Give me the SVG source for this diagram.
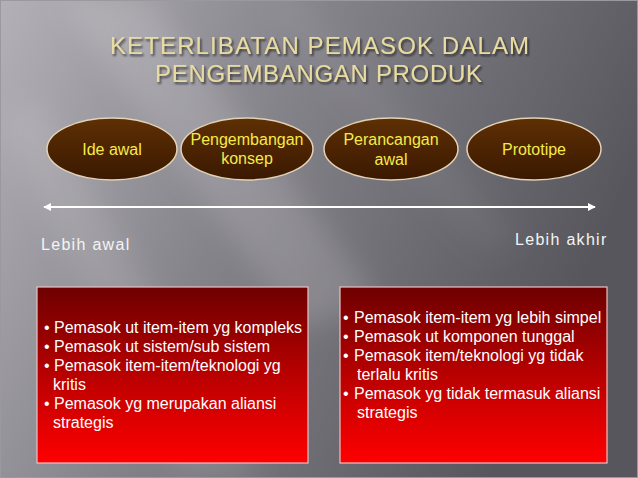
<svg xmlns="http://www.w3.org/2000/svg" width="638" height="478" viewBox="0 0 638 478">
<defs>
<linearGradient id="bg" x1="0" y1="0" x2="1" y2="0.35">
<stop offset="0" stop-color="#b3b1b7"/>
<stop offset="0.45" stop-color="#86848b"/>
<stop offset="1" stop-color="#57565c"/>
</linearGradient>
<linearGradient id="brown" x1="0" y1="0" x2="0" y2="1">
<stop offset="0" stop-color="#5e3004"/>
<stop offset="1" stop-color="#3a1800"/>
</linearGradient>
<linearGradient id="red" x1="0" y1="0" x2="0" y2="1">
<stop offset="0" stop-color="#6e0000"/>
<stop offset="0.55" stop-color="#c00000"/>
<stop offset="1" stop-color="#ff0000"/>
</linearGradient>
<filter id="blur" x="-20%" y="-20%" width="140%" height="140%"><feGaussianBlur stdDeviation="14"/></filter>
<filter id="sh" x="-10%" y="-10%" width="120%" height="130%"><feDropShadow dx="1.5" dy="2" stdDeviation="1" flood-color="#111" flood-opacity="0.7"/></filter>
<marker id="ah" viewBox="0 0 10 10" refX="9" refY="5" markerWidth="4" markerHeight="4" orient="auto-start-reverse"><path d="M0,0 L10,5 L0,10 z" fill="#ffffff"/></marker>
<style>
.ell{fill:url(#brown);stroke:#e2d2b8;stroke-width:1.5}
.et{font-family:"Liberation Sans",Arial,sans-serif;font-size:16px;fill:#f6ea48;text-anchor:middle}
.box{fill:url(#red);stroke:#e8c4c4;stroke-width:1.2}
.bt{font-family:"Liberation Sans",Arial,sans-serif;font-size:16px;fill:#ffffff}
.lab{font-family:"Liberation Sans",Arial,sans-serif;font-size:16px;fill:#f4f4f4;letter-spacing:1.3px}
.ttl{font-family:"Liberation Sans",Arial,sans-serif;font-size:24px;fill:#e8dba2;text-anchor:middle}
</style>
</defs>
<rect x="0" y="0" width="638" height="478" fill="url(#bg)"/>
<g filter="url(#blur)" fill="#ffffff">
<polygon points="60,0 150,0 380,300 300,330" opacity="0.14"/>
<polygon points="0,120 40,100 260,478 180,478" opacity="0.10"/>
<polygon points="260,0 300,0 520,240 480,250" opacity="0.05"/>
</g>
<rect x="0.5" y="0.5" width="637" height="477" fill="none" stroke="#9a999e" stroke-width="1"/>
<g id="title" filter="url(#sh)">
<text class="ttl" x="319.5" y="54" textLength="419" lengthAdjust="spacing">KETERLIBATAN PEMASOK DALAM</text>
<text class="ttl" x="318.5" y="82" textLength="327" lengthAdjust="spacing">PENGEMBANGAN PRODUK</text>
</g>
<g id="n1"><ellipse class="ell" cx="112" cy="149" rx="65" ry="31"/><text class="et" x="112" y="155">Ide awal</text></g>
<g id="n2"><ellipse class="ell" cx="247" cy="149" rx="66" ry="31"/><text class="et" x="247" y="145">Pengembangan</text><text class="et" x="247" y="164">konsep</text></g>
<g id="n3"><ellipse class="ell" cx="391" cy="149" rx="67" ry="31"/><text class="et" x="391" y="145">Perancangan</text><text class="et" x="391" y="165">awal</text></g>
<g id="n4"><ellipse class="ell" cx="534" cy="149" rx="67" ry="31"/><text class="et" x="534" y="155">Prototipe</text></g>
<g id="connectors">
<line x1="44" y1="207" x2="595" y2="207" stroke="#ffffff" stroke-width="2" marker-start="url(#ah)" marker-end="url(#ah)"/>
</g>
<g id="labels">
<text class="lab" x="41" y="250">Lebih awal</text>
<text class="lab" x="515" y="245">Lebih akhir</text>
</g>
<g id="boxL">
<rect class="box" x="37" y="287" width="271" height="176"/>
<text class="bt" x="44" y="333">•</text><text class="bt" x="54" y="333">Pemasok ut item-item yg kompleks</text>
<text class="bt" x="44" y="352">•</text><text class="bt" x="54" y="352">Pemasok ut sistem/sub sistem</text>
<text class="bt" x="44" y="371">•</text><text class="bt" x="54" y="371">Pemasok item-item/teknologi yg</text>
<text class="bt" x="53" y="390">kritis</text>
<text class="bt" x="44" y="409">•</text><text class="bt" x="54" y="409">Pemasok yg merupakan aliansi</text>
<text class="bt" x="53" y="428">strategis</text>
</g>
<g id="boxR">
<rect class="box" x="340" y="287" width="267" height="176"/>
<text class="bt" x="343" y="323">•</text><text class="bt" x="354" y="323">Pemasok item-item yg lebih simpel</text>
<text class="bt" x="343" y="342">•</text><text class="bt" x="354" y="342">Pemasok ut komponen tunggal</text>
<text class="bt" x="343" y="361">•</text><text class="bt" x="354" y="361">Pemasok item/teknologi yg tidak</text>
<text class="bt" x="357" y="380">terlalu kritis</text>
<text class="bt" x="343" y="399">•</text><text class="bt" x="354" y="399">Pemasok yg tidak termasuk aliansi</text>
<text class="bt" x="357" y="418">strategis</text>
</g>
</svg>
